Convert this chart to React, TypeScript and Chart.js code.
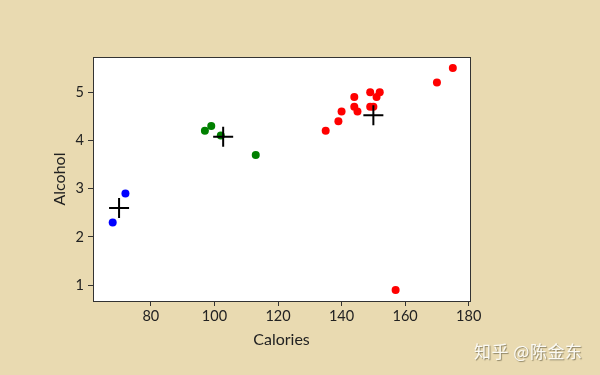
import React, { useEffect, useRef } from "react";
import { Chart, registerables } from "chart.js";

Chart.register(...registerables);

const blueCalories = [68, 72];
const blueAlcohol = [2.3, 2.9];
const greenCalories = [99, 113, 102, 97];
const greenAlcohol = [4.3, 3.7, 4.1, 4.2];
const redCalories = [144, 151, 157, 170, 152, 145, 175, 149, 140, 135, 150, 149, 139, 144];
const redAlcohol = [4.7, 4.9, 0.9, 5.2, 5.0, 4.6, 5.5, 4.7, 4.6, 4.2, 4.7, 5.0, 4.4, 4.9];
const centerCalories = [70, 102.75, 150];
const centerAlcohol = [2.6, 4.075, 4.52];
const xTicks = [80, 100, 120, 140, 160, 180];
const yTicks = [1, 2, 3, 4, 5];
const xTitle = "Calories";
const yTitle = "Alcohol";

const pts = (xs: number[], ys: number[]) => xs.map((x, i) => ({ x, y: ys[i] }));

const frame = {
  id: "frame",
  beforeDatasetsDraw(chart: any) {
    const { ctx, chartArea: a } = chart;
    ctx.save();
    ctx.fillStyle = "#ffffff";
    ctx.fillRect(a.left, a.top, a.right - a.left, a.bottom - a.top);
    ctx.restore();
  },
  afterDraw(chart: any) {
    const { ctx, chartArea: a } = chart;
    ctx.save();
    ctx.strokeStyle = "#333333";
    ctx.lineWidth = 1;
    ctx.strokeRect(Math.round(a.left) + 0.5, Math.round(a.top) + 0.5, Math.round(a.right - a.left), Math.round(a.bottom - a.top));
    ctx.fillStyle = "#222222";
    ctx.font = "16px Lato";
    ctx.textAlign = "center";
    ctx.textBaseline = "middle";
    ctx.fillText(xTitle, (a.left + a.right) / 2, 340);
    ctx.translate(60, (a.top + a.bottom) / 2);
    ctx.rotate(-Math.PI / 2);
    ctx.fillText(yTitle, 0, 0);
    ctx.restore();
  },
};

export default function App() {
  const ref = useRef<HTMLCanvasElement>(null);
  useEffect(() => {
    const font = { family: "Lato", size: 14.5 };
    const chart = new Chart(ref.current!, {
      type: "scatter",
      data: {
        datasets: [
          {
            data: pts(centerCalories, centerAlcohol),
            pointStyle: "cross",
            pointRadius: 10,
            borderColor: "#000000",
            borderWidth: 2,
            backgroundColor: "#000000",
          },
          {
            data: pts(blueCalories, blueAlcohol),
            pointRadius: 4,
            backgroundColor: "#0000ff",
            borderColor: "#0000ff",
            borderWidth: 0,
          },
          {
            data: pts(greenCalories, greenAlcohol),
            pointRadius: 4,
            backgroundColor: "#008000",
            borderColor: "#008000",
            borderWidth: 0,
          },
          {
            data: pts(redCalories, redAlcohol),
            pointRadius: 4,
            backgroundColor: "#ff0000",
            borderColor: "#ff0000",
            borderWidth: 0,
          },
        ],
      },
      options: {
        animation: false,
        responsive: false,
        events: [],
        layout: { padding: { top: 57, right: 130, left: 0, bottom: 0 } },
        plugins: { legend: { display: false }, tooltip: { enabled: false } },
        scales: {
          x: {
            type: "linear",
            min: 61.8,
            max: 180.4,
            afterBuildTicks: (s: any) => {
              s.ticks = xTicks.map((v) => ({ value: v }));
            },
            afterFit: (s: any) => {
              s.height = 74;
            },
            grid: { drawOnChartArea: false, drawTicks: true, tickLength: 5, color: "#333333" },
            border: { display: true, color: "#333333" },
            ticks: { color: "#222222", font, padding: 2, maxRotation: 0 },
          },
          y: {
            type: "linear",
            min: 0.67,
            max: 5.73,
            afterBuildTicks: (s: any) => {
              s.ticks = yTicks.map((v) => ({ value: v }));
            },
            afterFit: (s: any) => {
              s.width = 93;
            },
            grid: { drawOnChartArea: false, drawTicks: true, tickLength: 5, color: "#333333" },
            border: { display: true, color: "#333333" },
            ticks: { color: "#222222", font, padding: 4 },
          },
        },
      },
      plugins: [frame],
    });
    return () => chart.destroy();
  }, []);
  return (
    <div style={{ position: "fixed", left: 0, top: 0, width: 600, height: 375, background: "#e9dab1" }}>
      <canvas ref={ref} width={600} height={375} style={{ width: 600, height: 375, display: "block" }} />
      <div
        style={{
          position: "absolute",
          left: 474,
          top: 338,
          fontFamily: "'Noto Sans CJK SC'",
          fontSize: 17,
          letterSpacing: 0.5,
          color: "#fbfaf5",
          textShadow: "1px 1px 1px #8f8566",
          whiteSpace: "nowrap",
        }}
      >
        知乎 @陈金东
      </div>
    </div>
  );
}
